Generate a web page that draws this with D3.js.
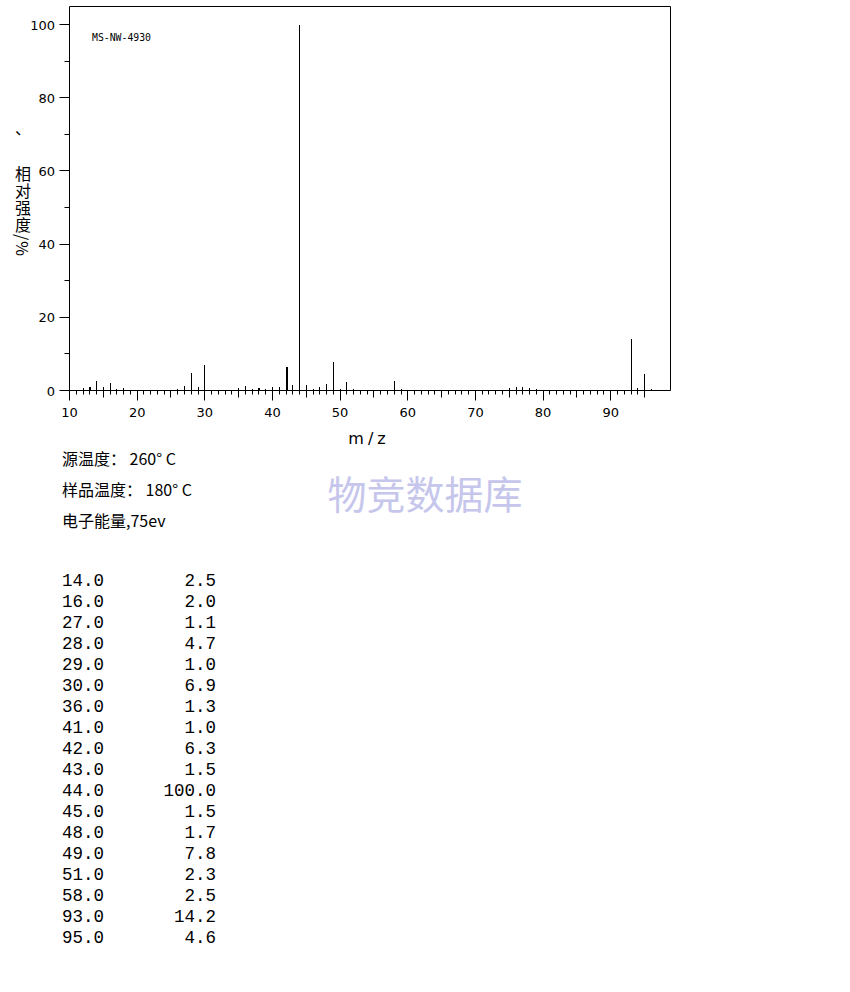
<!DOCTYPE html>
<html><head><meta charset="utf-8">
<script src="https://cdn.jsdelivr.net/npm/d3@7"></script>
<style>
html,body{margin:0;padding:0;background:#fff;}
svg{display:block;}
</style>
</head><body>
<script>
// ---- data ----
const peakMz = [12,13,14,15,16,17,18,26,27,28,29,30,35,36,37,38,39,40,41,42,43,44,45,46,47,48,49,50,51,52,58,59,75,76,77,78,79,93,94,95,96];
const peakInt = [0.7,1.0,2.5,0.9,2.0,0.4,0.6,0.4,1.1,4.7,1.0,6.9,0.6,1.3,0.4,0.6,0.5,0.9,1.0,6.3,1.5,100.0,1.5,0.4,0.9,1.7,7.8,0.3,2.3,0.4,2.5,0.4,0.8,0.9,0.9,0.6,0.3,14.2,0.6,4.6,0.3];
const boldMz = [13,38,42];
const xTickLabels = [10,20,30,40,50,60,70,80,90];
const yTickLabels = [0,20,40,60,80,100];
const sampleId = "MS-NW-4930";
const yTitle = "相对强度/%";
const infoLines = ["源温度： 260° C","样品温度： 180° C","电子能量,75ev"];
const tableMz = ["14.0","16.0","27.0","28.0","29.0","30.0","36.0","41.0","42.0","43.0","44.0","45.0","48.0","49.0","51.0","58.0","93.0","95.0"];
const tableInt = ["2.5","2.0","1.1","4.7","1.0","6.9","1.3","1.0","6.3","1.5","100.0","1.5","1.7","7.8","2.3","2.5","14.2","4.6"];
const watermark = "物竞数据库";

// ---- layout ----
const W = 850, H = 992;
const svg = d3.select("body").append("svg").attr("width", W).attr("height", H);

const x = d3.scaleLinear().domain([10, 98.83]).range([69.5, 670.5]);
const y = d3.scaleLinear().domain([0, 104.92]).range([390.5, 6.5]);
const px = v => Math.round(x(v) - 0.5) + 0.5;
const py = v => Math.round(y(v) - 0.5) + 0.5;

const g = svg.append("g");

// frame (left, top, right)
g.append("path")
  .attr("d", `M${x(10)},${y(0)} V${y.range()[1]} H${x.range()[1]} V${y(0)}`)
  .attr("fill", "none").attr("stroke", "#000").attr("stroke-width", 1);

// baseline
g.append("line").attr("x1", x(10)).attr("x2", x.range()[1]).attr("y1", y(0)).attr("y2", y(0))
  .attr("stroke", "#000");

// x ticks
const xTicks = d3.range(10, 96, 1);
g.selectAll("line.xt").data(xTicks).join("line").attr("class","xt")
  .attr("x1", d => px(d)).attr("x2", d => px(d))
  .attr("y1", y(0)).attr("y2", d => y(0) + (d % 10 === 0 ? 10 : d % 5 === 0 ? 7 : 4))
  .attr("stroke", "#000");
g.selectAll("text.xl").data(xTickLabels).join("text").attr("class","xl")
  .attr("x", d => x(d)).attr("y", 417)
  .attr("text-anchor","middle")
  .attr("font-family","DejaVu Sans, sans-serif").attr("font-size", 13)
  .text(d => d);

// y ticks
const yTicks = d3.range(0, 101, 10);
g.selectAll("line.yt").data(yTicks).join("line").attr("class","yt")
  .attr("x1", d => x(10) - (d % 20 === 0 ? 10 : 5)).attr("x2", x(10))
  .attr("y1", d => py(d)).attr("y2", d => py(d))
  .attr("stroke", "#000");
g.selectAll("text.yl").data(yTickLabels).join("text").attr("class","yl")
  .attr("x", 55).attr("y", d => y(d) + 5)
  .attr("text-anchor","end")
  .attr("font-family","DejaVu Sans, sans-serif").attr("font-size", 13)
  .text(d => d);

// peaks
const peaks = peakMz.map((m, i) => ({m, v: peakInt[i]}));
g.selectAll("rect.pk").data(peaks).join("rect").attr("class","pk")
  .attr("x", d => Math.round(x(d.m) - 0.5))
  .attr("width", d => boldMz.includes(d.m) ? 2 : 1)
  .attr("y", d => Math.round(y(d.v)))
  .attr("height", d => Math.max(1, Math.round(y(0)) - Math.round(y(d.v))))
  .attr("fill", "#000");

// sample id
svg.append("text").attr("x", 92).attr("y", 41)
  .attr("font-family","DejaVu Sans Mono, monospace").attr("font-size", 9.8)
  .text(sampleId);

// axis titles
svg.append("text").attr("x", 369).attr("y", 444).attr("text-anchor","middle")
  .attr("font-family","DejaVu Sans, sans-serif").attr("font-size", 16)
  .attr("letter-spacing", 4).text("m/z");

svg.append("text").attr("x", 23).attr("y", 134).attr("text-anchor","middle")
  .attr("font-family","Noto Sans CJK SC, sans-serif").attr("font-size", 16).text("、");
svg.append("text")
  .attr("x", 23).attr("y", 166)
  .style("writing-mode", "vertical-rl")
  .attr("font-family","Noto Sans CJK SC, sans-serif").attr("font-size", 16)
  .attr("letter-spacing", 1)
  .text(yTitle);

// info lines
svg.selectAll("text.info").data(infoLines).join("text").attr("class","info")
  .attr("x", 62).attr("y", (d, i) => 465 + i * 31)
  .attr("font-family","Noto Sans CJK SC, sans-serif").attr("font-size", 16)
  .text(d => d);

// watermark
svg.append("text").attr("x", 425).attr("y", 509).attr("text-anchor","middle")
  .attr("font-family","Noto Sans CJK SC, sans-serif").attr("font-size", 39)
  .attr("fill", "#c6c6ec").text(watermark);

// table
const rows = tableMz.map((m, i) => ({m, v: tableInt[i]}));
const tb = svg.append("g").attr("font-family","Liberation Mono, monospace").attr("font-size", 17.5);
tb.selectAll("text.tm").data(rows).join("text").attr("class","tm")
  .attr("x", 62).attr("y", (d, i) => 586 + i * 21).text(d => d.m);
tb.selectAll("text.tv").data(rows).join("text").attr("class","tv")
  .attr("x", 216).attr("y", (d, i) => 586 + i * 21).attr("text-anchor","end").text(d => d.v);
</script>
</body></html>
